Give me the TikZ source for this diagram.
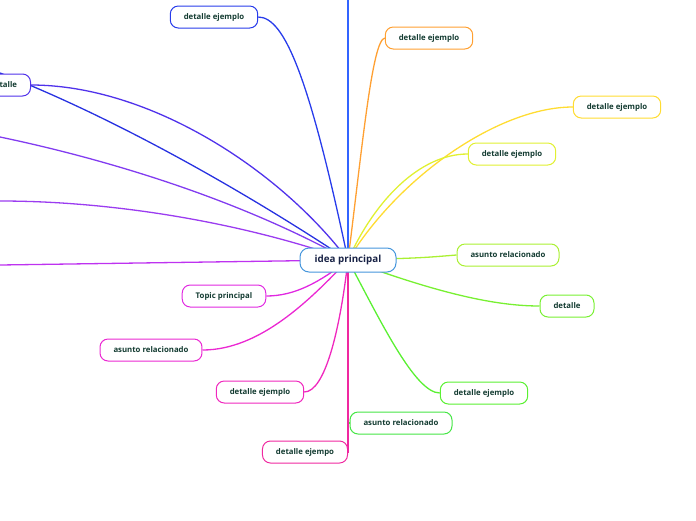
\documentclass[tikz,border=0pt]{standalone}
\usepackage{fontspec}
\setmainfont{Open Sans}
\usetikzlibrary{backgrounds}
\definecolor{mapblue}{RGB}{40,60,235}
\definecolor{mapbluedark}{RGB}{40,50,225}
\definecolor{mapbluesky}{RGB}{50,100,255}
\definecolor{mapindigo}{RGB}{80,50,235}
\definecolor{mapviolet}{RGB}{130,60,240}
\definecolor{mappurple}{RGB}{155,60,240}
\definecolor{mapplum}{RGB}{190,50,240}
\definecolor{mapmagenta}{RGB}{225,40,225}
\definecolor{mapfuchsia}{RGB}{235,40,210}
\definecolor{mappink}{RGB}{240,40,190}
\definecolor{maprose}{RGB}{240,40,160}
\definecolor{maporange}{RGB}{255,160,50}
\definecolor{mapyellow}{RGB}{255,220,50}
\definecolor{maplemon}{RGB}{225,240,50}
\definecolor{maplime}{RGB}{170,240,50}
\definecolor{mapgrass}{RGB}{120,240,50}
\definecolor{mapgreen}{RGB}{90,240,50}
\definecolor{mapmint}{RGB}{70,230,70}
\definecolor{mainborder}{RGB}{70,150,220}
\definecolor{maintext}{RGB}{25,35,70}
\definecolor{leaftext}{RGB}{20,60,50}

\begin{document}
\begin{tikzpicture}[x=1pt,y=-1pt,
  leaf/.style={draw=#1, line width=1pt, rounded corners=8pt, fill=white,
    minimum height=22pt, inner xsep=13.5pt, inner ysep=0pt,
    font=\fontsize{7.8}{9}\selectfont\bfseries, text=leaftext},
  link/.style={draw=#1, line width=1.3pt}]
\useasboundingbox (0,0) rectangle (696,520);

% central topic
\node[draw=mainborder, line width=1pt, rounded corners=9pt, fill=white,
  minimum height=24pt, minimum width=96pt,
  font=\fontsize{9.8}{11}\selectfont\bfseries, text=maintext] (main) at (348,260) {idea principal};

% upper left branches
\node[leaf=mapblue] (bluedet) at (214,17) {detalle ejemplo};
\node[leaf=mapindigo] (leftdet) at (3.5,85) {detalle};
\coordinate (offA) at (0,73);
\coordinate (offB) at (0,137);
\coordinate (offC) at (0,201);
\coordinate (offD) at (0,265);
\coordinate (offTop) at (348,0);

% right branches
\node[leaf=maporange] (orangedet) at (429,38) {detalle ejemplo};
\node[leaf=mapyellow] (yellowdet) at (617,107) {detalle ejemplo};
\node[leaf=maplemon] (lemondet) at (512,154) {detalle ejemplo};
\node[leaf=maplime] (limeasu) at (508,255) {asunto relacionado};
\node[leaf=mapgrass] (grassdet) at (567,306) {detalle};
\node[leaf=mapgreen] (greendet) at (484,393) {detalle ejemplo};
\node[leaf=mapmint] (mintasu) at (401,423) {asunto relacionado};

% lower left branches
\node[leaf=mapmagenta] (topic) at (224,296) {Topic principal};
\node[leaf=mapfuchsia] (fuchsiaasu) at (151,350) {asunto relacionado};
\node[leaf=mappink] (pinkdet) at (260,392) {detalle ejemplo};
\node[leaf=maprose] (rosedet) at (305,452) {detalle ejempo};

% connectors
\begin{scope}[on background layer]
\draw[link=mapbluesky] (main.center) -- (offTop);
\draw[link=mapblue] (bluedet.east) .. controls (285,17) and (310,80) .. (main.center);
\draw[link=mapbluedark] (offA) .. controls (120,120) and (250,195) .. (main.center);
\draw[link=mapindigo] (leftdet.east) .. controls (150,85) and (280,170) .. (main.center);
\draw[link=mapviolet] (offB) .. controls (110,160) and (240,200) .. (main.center);
\draw[link=mappurple] (offC) .. controls (120,201) and (250,225) .. (main.center);
\draw[link=mapplum] (offD) -- (main.center);
\draw[link=maporange] (orangedet.west) .. controls (372,40) and (362,150) .. (main.center);
\draw[link=mapyellow] (yellowdet.west) .. controls (500,107) and (400,175) .. (main.center);
\draw[link=maplemon] (lemondet.west) .. controls (420,154) and (375,200) .. (main.center);
\draw[link=maplime] (main.center) .. controls (420,258) .. (limeasu.west);
\draw[link=mapgrass] (main.center) .. controls (430,290) and (490,306) .. (grassdet.west);
\draw[link=mapgreen] (main.center) .. controls (380,320) and (415,393) .. (greendet.west);
\draw[link=mapmint] (main.center) |- (mintasu.west);
\draw[link=maprose] (main.center) |- (rosedet.east);
\draw[link=mappink] (pinkdet.east) .. controls (325,392) and (340,330) .. (main.center);
\draw[link=mapfuchsia] (fuchsiaasu.east) .. controls (260,350) and (310,300) .. (main.center);
\draw[link=mapmagenta] (topic.east) .. controls (295,296) and (320,282) .. (main.center);
\end{scope}
\end{tikzpicture}
\end{document}
